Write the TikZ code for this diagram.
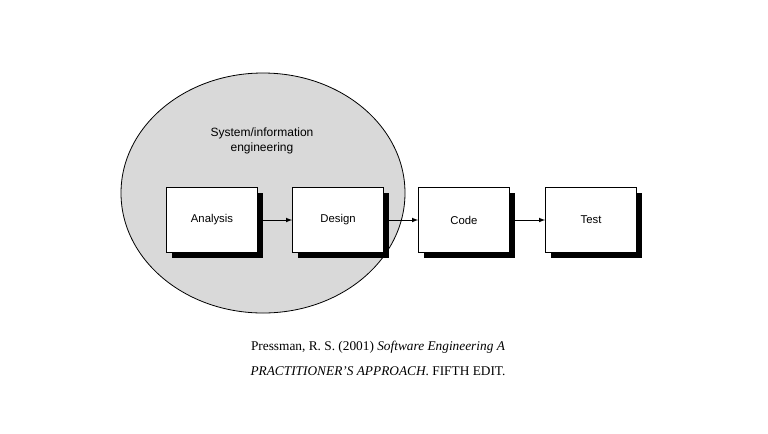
\documentclass[tikz,border=0pt]{standalone}
\usepackage{fontspec}
\setmainfont{Liberation Serif}
\setsansfont{Liberation Sans}
\usetikzlibrary{shapes.geometric,shadows}
\begin{document}
\begin{tikzpicture}[x=0.75pt,y=-0.75pt,
  stage/.style={draw=black,fill=white,line width=0.8pt,minimum width=68pt,minimum height=49pt,font=\sffamily\fontsize{8.5}{10}\selectfont,
    drop shadow={shadow xshift=4pt,shadow yshift=-4pt,fill=black,opacity=1}},
  flow/.style={-latex,line width=0.6pt}]
\useasboundingbox (0,0) rectangle (768,433);
\fill[white] (0,0) rectangle (768,433);
\node[draw=black,fill=black!15,line width=0.6pt,ellipse,minimum width=213pt,minimum height=180pt,inner sep=0] (ell) at (263,193) {};
\node[font=\sffamily\fontsize{9}{11}\selectfont,align=center] (sys) at (262,141) {System/information\\engineering};
\node[stage] (an) at (212,220) {Analysis};
\node[stage] (de) at (338,220) {Design};
\node[stage] (co) at (464,220) {Code};
\node[stage] (te) at (591,220) {Test};
\draw[flow] (an) -- (de);
\draw[flow] (de) -- (co);
\draw[flow] (co) -- (te);
\node[font=\fontsize{10}{12}\selectfont] (c1) at (378,347) {Pressman, R. S. (2001) \textit{Software Engineering A}};
\node[font=\fontsize{10}{12}\selectfont] (c2) at (378,371) {\textit{PRACTITIONER'S APPROACH}. FIFTH EDIT.};
\end{tikzpicture}
\end{document}
